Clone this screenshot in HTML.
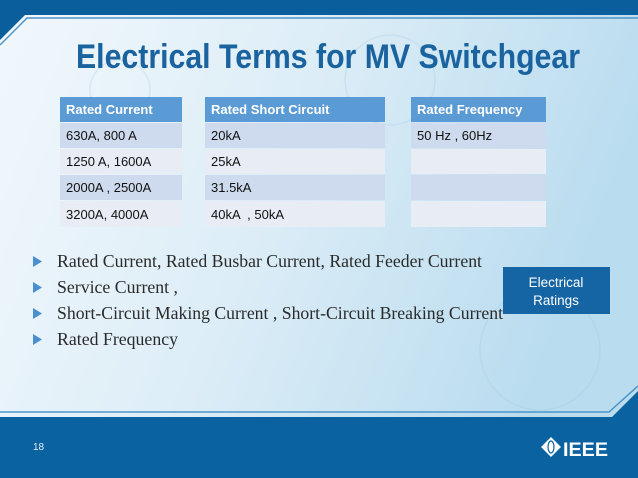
<!DOCTYPE html>
<html><head><meta charset="utf-8"><style>
html,body{margin:0;padding:0;width:638px;height:478px;overflow:hidden}
svg{display:block}
</style></head><body>
<svg width="638" height="478" viewBox="0 0 638 478" xmlns="http://www.w3.org/2000/svg">
<defs>
<linearGradient id="bg" x1="0" y1="0" x2="1" y2="0.3">
<stop offset="0" stop-color="#f2f8fc"/><stop offset="0.5" stop-color="#dcedf7"/><stop offset="1" stop-color="#b9dcef"/>
</linearGradient>
</defs>
<rect width="638" height="478" fill="url(#bg)"/>
<g opacity="0.25" fill="none" stroke="#9cc6e0" stroke-width="1.5">
<circle cx="390" cy="80" r="45"/><circle cx="540" cy="350" r="60"/><circle cx="120" cy="90" r="30"/>
</g>
<path d="M0 0H638V15H25L0 40Z" fill="#0b5e9c"/>
<path d="M0 45L27 18H638" fill="none" stroke="#4d94c8" stroke-width="1.5"/>
<path d="M0 478V417H612L638 391V478Z" fill="#0b62a0"/>
<path d="M0 412H609L638 386" fill="none" stroke="#4d94c8" stroke-width="1.5"/>
<text x="328" y="68" text-anchor="middle" font-family="Liberation Sans, sans-serif" font-weight="bold" font-size="34" fill="#1a639f" textLength="504" lengthAdjust="spacingAndGlyphs">Electrical Terms for MV Switchgear</text>

<g font-family="Liberation Sans, sans-serif" font-size="13">
<g>
<rect x="60" y="97" width="122" height="25" fill="#5b9bd5"/>
<text x="66" y="114" fill="#fff" font-weight="bold">Rated Current</text>
<rect x="60" y="123" width="122" height="25" fill="#cedbee"/>
<rect x="60" y="149" width="122" height="25" fill="#e8edf5"/>
<rect x="60" y="175" width="122" height="25" fill="#cedbee"/>
<rect x="60" y="201" width="122" height="26" fill="#e8edf5"/>
<text x="66" y="140" fill="#111">630A, 800 A</text>
<text x="66" y="166" fill="#111">1250 A, 1600A</text>
<text x="66" y="192" fill="#111">2000A , 2500A</text>
<text x="66" y="219" fill="#111">3200A, 4000A</text>
</g>
<g>
<rect x="205" y="97" width="180" height="25" fill="#5b9bd5"/>
<text x="211" y="114" fill="#fff" font-weight="bold">Rated Short Circuit</text>
<rect x="205" y="123" width="180" height="25" fill="#cedbee"/>
<rect x="205" y="149" width="180" height="25" fill="#e8edf5"/>
<rect x="205" y="175" width="180" height="25" fill="#cedbee"/>
<rect x="205" y="201" width="180" height="26" fill="#e8edf5"/>
<text x="211" y="140" fill="#111">20kA</text>
<text x="211" y="166" fill="#111">25kA</text>
<text x="211" y="192" fill="#111">31.5kA</text>
<text x="211" y="219" fill="#111" xml:space="preserve">40kA  , 50kA</text>
</g>
<g>
<rect x="411" y="97" width="135" height="25" fill="#5b9bd5"/>
<text x="417" y="114" fill="#fff" font-weight="bold">Rated Frequency</text>
<rect x="411" y="123" width="135" height="25" fill="#cedbee"/>
<rect x="411" y="149" width="135" height="25" fill="#e8edf5"/>
<rect x="411" y="175" width="135" height="25" fill="#cedbee"/>
<rect x="411" y="201" width="135" height="26" fill="#e8edf5"/>
<text x="417" y="140" fill="#111">50 Hz , 60Hz</text>
</g>
</g>

<g font-family="Liberation Serif, serif" font-size="17.5" fill="#2a2a2a">
<path d="M33 256l9 5.5-9 5.5z" fill="#4a8fd0"/>
<text x="57" y="267" textLength="425" lengthAdjust="spacingAndGlyphs">Rated Current, Rated Busbar Current, Rated Feeder Current</text>
<path d="M33 282l9 5.5-9 5.5z" fill="#4a8fd0"/>
<text x="57" y="293" textLength="121" lengthAdjust="spacingAndGlyphs">Service Current ,</text>
<path d="M33 308l9 5.5-9 5.5z" fill="#4a8fd0"/>
<text x="57" y="319" textLength="446" lengthAdjust="spacingAndGlyphs">Short-Circuit Making Current , Short-Circuit Breaking Current</text>
<path d="M33 334l9 5.5-9 5.5z" fill="#4a8fd0"/>
<text x="57" y="345" textLength="121" lengthAdjust="spacingAndGlyphs">Rated Frequency</text>
</g>

<g>
<rect x="503" y="267" width="107" height="47" fill="#1565a5"/>
<text x="556" y="287" text-anchor="middle" font-family="Liberation Sans, sans-serif" font-size="13.5" fill="#fff">Electrical</text>
<text x="556" y="305" text-anchor="middle" font-family="Liberation Sans, sans-serif" font-size="13.5" fill="#fff">Ratings</text>
</g>

<text x="33" y="450" font-family="Liberation Sans, sans-serif" font-size="10" fill="#e6f0f8">18</text>
<g>
<path d="M551 437l10 10-10 10-10-10z" fill="#fff"/>
<ellipse cx="551" cy="447" rx="3" ry="6" fill="none" stroke="#0b62a0" stroke-width="1.2"/>
<text x="563" y="456" font-family="Liberation Sans, sans-serif" font-weight="bold" font-size="19" fill="#fff" textLength="45" lengthAdjust="spacingAndGlyphs">IEEE</text>
</g>
</svg>
</body></html>
